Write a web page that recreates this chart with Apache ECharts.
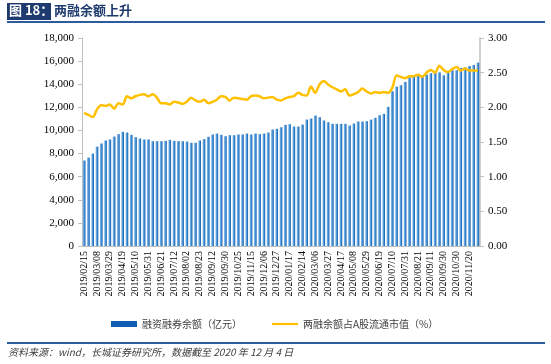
<!DOCTYPE html>
<html><head><meta charset="utf-8">
<script src="https://cdn.jsdelivr.net/npm/echarts@6/dist/echarts.min.js"></script>
<style>html,body{margin:0;padding:0;background:#fff}#c{width:551px;height:364px}</style>
</head><body><div id="c"></div>
<script>
var categories = [
"2019/02/15","2019/02/22","2019/03/01","2019/03/08","2019/03/15","2019/03/22","2019/03/29","2019/04/04","2019/04/12","2019/04/19",
"2019/04/26","2019/04/30","2019/05/10","2019/05/17","2019/05/24","2019/05/31","2019/06/06","2019/06/14","2019/06/21","2019/06/28",
"2019/07/05","2019/07/12","2019/07/19","2019/07/26","2019/08/02","2019/08/09","2019/08/16","2019/08/23","2019/08/30","2019/09/06",
"2019/09/12","2019/09/20","2019/09/27","2019/09/30","2019/10/11","2019/10/18","2019/10/25","2019/11/01","2019/11/08","2019/11/15",
"2019/11/22","2019/11/29","2019/12/06","2019/12/13","2019/12/20","2019/12/27","2020/01/03","2020/01/10","2020/01/17","2020/01/23",
"2020/02/07","2020/02/14","2020/02/21","2020/02/28","2020/03/06","2020/03/13","2020/03/20","2020/03/27","2020/04/03","2020/04/10",
"2020/04/17","2020/04/24","2020/04/30","2020/05/08","2020/05/15","2020/05/22","2020/05/29","2020/06/05","2020/06/12","2020/06/19",
"2020/06/24","2020/07/03","2020/07/10","2020/07/17","2020/07/24","2020/07/31","2020/08/07","2020/08/14","2020/08/21","2020/08/28",
"2020/09/04","2020/09/11","2020/09/18","2020/09/25","2020/09/30","2020/10/16","2020/10/23","2020/10/30","2020/11/06","2020/11/13",
"2020/11/20","2020/11/27","2020/12/04"];

var marginBalance = [
7400,7650,8000,8600,8870,9130,9220,9470,9680,9880,
9820,9620,9420,9300,9220,9220,9070,9070,9070,9100,
9190,9100,9070,9070,9040,8930,8930,9130,9250,9450,
9650,9730,9620,9500,9590,9590,9650,
9650,9730,9650,9730,9680,9730,9820,10080,10140,10280,
10480,10540,10340,10340,10510,10940,11030,11290,11150,10860,
10710,10570,10570,10570,10570,10430,10600,10770,10770,10800,
10940,11090,11320,11430,12040,13390,13790,13910,14200,14600,
14630,14750,14750,14830,14950,14980,15030,14770,15030,15210,
15210,15410,15460,15580,15670,15870];

var marginRatio = [
1.92,1.89,1.86,1.97,2.03,2.02,2.04,1.98,2.06,2.04,
2.16,2.13,2.16,2.18,2.19,2.16,2.19,2.14,2.06,2.06,
2.04,2.08,2.07,2.05,2.08,2.14,2.10,2.08,2.11,2.06,
2.08,2.11,2.16,2.15,2.10,2.14,2.13,
2.12,2.11,2.16,2.17,2.16,2.13,2.14,2.15,2.11,2.10,
2.13,2.15,2.16,2.21,2.18,2.17,2.30,2.21,2.33,2.38,
2.33,2.29,2.26,2.23,2.26,2.17,2.19,2.22,2.27,2.23,
2.20,2.22,2.21,2.22,2.21,2.28,2.46,2.44,2.42,2.45,
2.45,2.47,2.44,2.50,2.54,2.50,2.60,2.54,2.51,2.55,
2.58,2.53,2.56,2.53,2.53,2.53];

var leftTicks = [0,2000,4000,6000,8000,10000,12000,14000,16000,18000];
var rightTicks = [0,0.5,1,1.5,2,2.5,3];

var serif = '"Liberation Serif","Times New Roman",serif';
var cjk = '"Noto Sans CJK SC",sans-serif';
var navy = '#1F3A6E';
var axisGray = '#BFBFBF';

var chart = echarts.init(document.getElementById('c'), null, {renderer:'canvas'});
chart.setOption({
  animation:false,
  backgroundColor:'#fff',
  grid:{left:82, right:71, top:38, bottom:118},
  legend:{
    top:314, left:106, itemGap:30,
    textStyle:{fontFamily:cjk, fontSize:10, color:'#404040'},
    data:[
      {name:'融资融券余额（亿元）', icon:'rect', itemStyle:{color:'#0E5FB3'}},
      {name:'两融余额占A股流通市值（%）', icon:'path://M0,0 L26,0 L26,2.2 L0,2.2 Z', itemStyle:{color:'#FFC000'}}
    ],
    itemWidth:26, itemHeight:6
  },
  xAxis:{
    type:'category', data:categories, boundaryGap:true,
    axisLine:{lineStyle:{color:axisGray}},
    axisTick:{interval:2, alignWithLabel:true, lineStyle:{color:axisGray}, length:4},
    axisLabel:{interval:2, rotate:90, fontFamily:serif, fontSize:10, color:'#000', margin:5}
  },
  yAxis:[
    {type:'value', min:0, max:18000, interval:2000,
     axisLine:{show:true, lineStyle:{color:axisGray}},
     axisTick:{show:true, lineStyle:{color:axisGray}, length:4},
     splitLine:{show:false},
     axisLabel:{fontFamily:serif, fontSize:11, color:'#000', margin:8,
       formatter:function(v){return v.toLocaleString('en-US');}}},
    {type:'value', min:0, max:3, interval:0.5, position:'right',
     axisLine:{show:true, lineStyle:{color:axisGray, width:1.5}},
     axisTick:{show:true, lineStyle:{color:axisGray}, length:4},
     splitLine:{show:false},
     axisLabel:{fontFamily:serif, fontSize:11, color:'#000', margin:8,
       formatter:function(v){return v.toFixed(2);}}}
  ],
  series:[
    {name:'融资融券余额（亿元）', type:'bar', data:marginBalance, yAxisIndex:0,
     barWidth:'62%',
     itemStyle:{color:new echarts.graphic.LinearGradient(0,0,1,0,[
       {offset:0,color:'#8CC0EC'},{offset:0.5,color:'#4A94D6'},{offset:1,color:'#0A58AC'}])}},
    {name:'两融余额占A股流通市值（%）', type:'line', data:marginRatio, yAxisIndex:1,
     symbol:'none', smooth:0.3, lineStyle:{color:'#FFC000', width:2.5}, itemStyle:{color:'#FFC000'}}
  ],
  graphic:[
    {type:'rect', shape:{x:7,y:3,width:44,height:17}, style:{fill:navy}},
    {type:'text', left:9, top:4, style:{text:'图 18：', fill:'#fff', font:'bold 13px '+cjk}},
    {type:'text', left:54, top:4, style:{text:'两融余额上升', fill:navy, font:'bold 13px '+cjk}},
    {type:'rect', shape:{x:7,y:21,width:538,height:2}, style:{fill:'#2E5C9A'}},
    {type:'rect', shape:{x:7,y:342,width:538,height:2}, style:{fill:'#2E5C9A'}},
    {type:'text', left:8, top:347, style:{text:'资料来源：wind，长城证券研究所，数据截至 2020 年 12 月 4 日', fill:'#404040', font:'italic 10px '+cjk}}
  ]
});
</script></body></html>
